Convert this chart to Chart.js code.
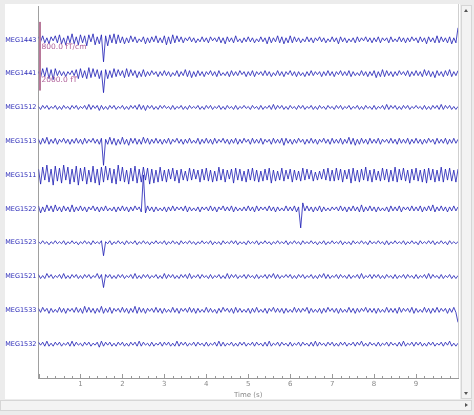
<!DOCTYPE html>
<html>
<head>
<meta charset="UTF-8">
<title>MEG raw traces</title>
<script src="https://cdn.jsdelivr.net/npm/chart.js"></script>
<style>
  body { margin: 0; background: #ececec; width: 474px; height: 415px; overflow: hidden; position: relative; }
  #wrap { position: absolute; left: 5px; top: 4px; width: 455px; height: 395px; background: #fff; }
  .vbar { position: absolute; left: 461px; top: 5px; width: 9px; height: 392px; background: #f3f3f3; border: 1px solid #d6d6d6; }
  .hbar { position: absolute; left: 0; top: 400px; width: 470px; height: 9px; background: #f3f3f3; border: 1px solid #d6d6d6; }
  .up { position: absolute; left: 2px; top: 3px; border-left: 2.5px solid transparent; border-right: 2.5px solid transparent; border-bottom: 3px solid #555; }
  .down { position: absolute; left: 2px; bottom: 3px; border-left: 2.5px solid transparent; border-right: 2.5px solid transparent; border-top: 3px solid #555; }
  .right { position: absolute; right: 3px; top: 2px; border-top: 2.5px solid transparent; border-bottom: 2.5px solid transparent; border-left: 3px solid #555; }
</style>
</head>
<body>
<div id="wrap"><canvas id="raw" width="455" height="395"></canvas></div>
<div class="vbar"><div class="up"></div><div class="down"></div></div>
<div class="hbar"><div class="right"></div></div>
<script>
// channel names, top to bottom
const channels = ['MEG1443', 'MEG1441', 'MEG1512', 'MEG1513', 'MEG1511',
                  'MEG1522', 'MEG1523', 'MEG1521', 'MEG1533', 'MEG1532'];
const tStep = 0.05; // seconds between samples
const xTicks = [1, 2, 3, 4, 5, 6, 7, 8, 9];

// deflections (approx. px, up = positive)
const meg1443 = [
  3,-2,4,-3,2,-4,3,-1,4,-3,5,-4,2,-5,4,-3,6,-4,3,-5,
  5,-3,4,-6,5,-2,6,-5,3,-4,5,-22,4,-6,5,-3,6,-4,5,-3,
  3,-4,2,-3,4,-2,3,-3,1,-2,3,-4,2,-3,3,-2,4,-3,2,-3,
  4,-5,3,-4,5,-3,4,-2,3,-3,2,-1,3,-2,2,-3,1,-2,3,-2,
  2,-3,3,-1,2,-2,3,-3,2,-4,3,-2,2,-3,4,-2,1,-3,2,-2,
  3,-2,2,-3,1,-2,3,-2,2,-4,3,-3,2,-2,4,-3,3,-4,2,-3,
  4,-3,3,-2,2,-3,1,-2,3,-2,2,-3,2,-1,3,-2,2,-3,1,-2,
  3,-2,2,-4,3,-2,2,-3,1,-2,2,-3,3,-2,2,-1,3,-2,2,-3,
  2,-2,3,-3,2,-1,2,-3,3,-2,1,-2,3,-2,2,-3,2,-2,3,-1,
  2,-3,3,-2,2,-4,3,-2,2,-3,4,-3,3,-2,2,-3,3,-4,2,-3,
  12];
const meg1441 = [
  2,-4,5,-3,6,-5,4,-6,5,-2,3,-2,2,-3,2,-1,3,-2,4,-5,
  5,-4,3,-5,6,-4,5,-3,4,-5,3,-19,4,-5,3,-4,5,-3,4,-2,
  3,-4,5,-3,4,-2,3,-4,2,-3,4,-3,2,-2,3,-1,2,-3,2,-2,
  3,-2,2,-3,1,-2,3,-3,2,-2,4,-3,3,-4,2,-3,3,-2,2,-3,
  2,-1,3,-2,2,-3,3,-2,1,-2,2,-3,3,-2,2,-2,3,-1,2,-3,
  2,-2,3,-3,2,-1,2,-2,3,-2,2,-3,1,-2,3,-2,2,-3,2,-1,
  3,-2,2,-3,2,-2,1,-3,2,-2,3,-2,2,-1,2,-3,2,-2,3,-2,
  2,-3,2,-1,3,-2,2,-2,3,-3,2,-2,1,-2,3,-2,2,-3,2,-2,
  3,-4,2,-3,4,-3,3,-2,2,-3,2,-2,3,-1,2,-2,3,-3,2,-2,
  3,-2,2,-3,4,-2,3,-3,2,-4,3,-2,2,-3,3,-2,4,-3,2,-2,
  3];
const meg1512 = [
  1,-2,2,-1,2,-2,1,-1,2,-2,1,-2,2,-1,1,-2,2,-1,2,-2,
  1,-1,2,-2,3,-2,2,-1,2,-3,2,-2,1,-2,2,-1,2,-2,1,-1,
  2,-2,1,-2,2,-1,2,-2,3,-2,2,-3,2,-1,2,-2,1,-2,2,-1,
  2,-1,1,-2,2,-2,1,-1,2,-2,1,-2,2,-1,1,-1,2,-2,1,-2,
  2,-1,2,-2,1,-1,2,-2,1,-2,2,-1,1,-2,2,-2,1,-1,2,-1,
  1,-2,2,-1,1,-2,2,-2,1,-1,2,-2,3,-2,2,-1,2,-2,1,-2,
  2,-1,1,-2,2,-1,2,-2,1,-1,2,-2,1,-2,2,-1,1,-2,2,-1,
  1,-2,2,-1,2,-2,1,-1,2,-2,1,-1,2,-2,1,-2,2,-1,1,-2,
  2,-2,1,-1,2,-2,3,-2,2,-1,2,-2,1,-2,2,-1,2,-2,1,-1,
  2,-1,1,-2,2,-2,1,-2,2,-1,2,-2,3,-2,2,-1,2,-2,1,-2,
  1];
const meg1513 = [
  2,-3,3,-2,4,-3,2,-2,3,-3,2,-1,3,-2,2,-3,2,-2,3,-2,
  2,-3,3,-2,2,-1,3,-2,2,-3,3,-24,2,-3,4,-3,3,-4,2,-3,
  4,-3,2,-4,3,-2,3,-3,2,-3,4,-2,3,-3,2,-2,3,-2,2,-3,
  2,-2,3,-3,2,-1,3,-2,2,-3,2,-2,3,-2,1,-2,3,-3,2,-2,
  3,-2,2,-3,3,-2,2,-1,3,-2,2,-3,2,-2,3,-3,2,-2,3,-1,
  2,-3,3,-2,2,-2,3,-3,2,-1,2,-3,3,-2,2,-2,3,-4,3,-2,
  2,-3,2,-2,3,-1,2,-3,2,-2,3,-2,2,-3,2,-1,3,-2,2,-3,
  3,-2,2,-2,3,-3,2,-2,4,-3,3,-4,2,-3,3,-2,2,-3,3,-2,
  2,-2,3,-3,2,-1,2,-2,3,-2,2,-3,3,-2,2,-2,3,-3,2,-2,
  3,-2,2,-3,2,-2,3,-1,2,-3,3,-2,2,-2,3,-3,2,-2,3,-2,
  2];
const meg1511 = [
  6,-9,8,-5,10,-7,6,-10,9,-6,7,-8,10,-5,8,-9,6,-7,9,-10,
  7,-6,8,-9,5,-7,9,-8,6,-10,8,-7,9,-5,7,-8,6,-9,10,-6,
  8,-7,5,-9,7,-6,9,-8,6,-7,8,-5,7,-9,6,-8,5,-7,8,-6,
  5,-7,6,-4,7,-6,5,-8,6,-5,4,-6,7,-5,6,-4,5,-7,6,-5,
  7,-6,5,-7,4,-6,8,-5,6,-7,5,-4,6,-8,7,-5,6,-6,4,-7,
  6,-5,7,-6,5,-7,4,-6,6,-5,7,-8,5,-6,4,-5,7,-6,5,-4,
  6,-7,5,-5,4,-6,7,-5,6,-4,5,-6,3,-5,4,-4,6,-5,7,-6,
  5,-6,7,-5,6,-7,5,-4,6,-8,7,-6,5,-7,6,-5,8,-6,5,-7,
  6,-5,4,-6,7,-5,6,-7,5,-6,8,-7,6,-5,7,-6,5,-8,6,-5,
  7,-6,5,-7,6,-8,7,-5,6,-7,5,-6,8,-7,6,-5,7,-6,5,-7,
  6];
const meg1522 = [
  3,-4,2,-3,4,-2,3,-3,4,-2,2,-3,3,-2,2,-3,4,-3,2,-2,
  3,-2,2,-3,2,-1,3,-2,2,-3,2,-2,3,-2,1,-2,2,-3,2,-2,
  3,-2,2,-3,2,-2,3,-1,2,-3,34,-4,3,-2,2,-3,2,-2,1,-2,
  2,-3,2,-2,3,-2,2,-1,2,-2,3,-3,2,-2,1,-2,2,-3,2,-1,
  2,-2,3,-2,2,-3,2,-1,3,-2,2,-2,3,-3,2,-2,1,-2,2,-2,
  3,-2,2,-3,3,-2,2,-1,2,-2,3,-2,2,-3,2,-2,1,-2,3,-2,
  2,-2,3,-3,2,-19,6,-2,3,-2,2,-3,2,-2,3,-3,2,-2,1,-2,
  2,-1,2,-2,3,-2,2,-3,2,-2,3,-2,2,-3,4,-3,2,-2,3,-2,
  2,-3,2,-2,1,-2,2,-3,3,-2,2,-2,3,-3,2,-1,2,-2,3,-2,
  2,-2,3,-3,2,-2,3,-2,4,-3,2,-2,3,-2,2,-3,2,-2,3,-2,
  2];
const meg1523 = [
  1,-1,2,-1,1,-2,1,-1,2,-1,1,-1,2,-2,1,-1,2,-1,1,-2,
  1,-1,2,-1,1,-2,2,-1,1,-1,2,-13,1,-1,2,-2,1,-1,2,-1,
  1,-2,2,-1,1,-1,2,-2,1,-1,2,-1,1,-2,1,-1,2,-1,1,-1,
  2,-2,1,-1,2,-1,1,-2,2,-1,1,-1,2,-1,1,-2,1,-1,2,-1,
  1,-1,2,-2,1,-1,1,-2,2,-1,1,-1,2,-1,2,-2,1,-1,1,-2,
  2,-1,1,-1,2,-2,1,-1,2,-1,1,-2,1,-1,2,-1,1,-1,2,-2,
  1,-1,2,-1,1,-2,2,-1,1,-1,2,-1,1,-2,1,-1,2,-2,1,-1,
  2,-1,1,-1,2,-2,1,-1,1,-2,2,-1,1,-1,2,-1,1,-2,2,-1,
  1,-1,2,-1,1,-2,2,-2,1,-1,2,-1,1,-1,2,-2,1,-1,2,-1,
  1,-2,2,-1,1,-1,2,-1,2,-2,1,-1,2,-1,1,-2,2,-1,1,-1,
  1];
const meg1521 = [
  2,-2,1,-2,3,-1,2,-2,1,-1,2,-2,3,-2,1,-2,2,-1,2,-2,
  1,-2,2,-1,2,-2,1,-1,3,-2,2,-11,2,-1,2,-2,1,-2,2,-1,
  2,-2,1,-1,2,-2,3,-2,1,-2,2,-1,2,-2,1,-1,2,-2,1,-2,
  3,-2,2,-1,2,-2,1,-2,2,-1,2,-2,3,-2,1,-1,2,-2,2,-1,
  1,-2,2,-2,1,-1,2,-2,1,-2,3,-2,2,-1,2,-2,1,-1,2,-2,
  2,-1,1,-2,2,-2,1,-1,2,-2,2,-1,3,-2,2,-2,1,-1,2,-1,
  2,-2,1,-2,2,-1,2,-2,1,-1,2,-2,1,-2,2,-1,3,-2,2,-2,
  1,-1,2,-2,2,-1,1,-2,2,-2,1,-1,2,-2,3,-2,1,-1,2,-2,
  2,-1,2,-2,1,-2,2,-1,1,-2,2,-2,1,-1,2,-2,2,-1,1,-2,
  2,-2,1,-1,2,-2,3,-2,2,-1,1,-2,2,-2,1,-1,2,-2,1,-2,
  1];
const meg1533 = [
  2,-2,3,-1,2,-3,2,-2,1,-2,3,-2,2,-3,2,-1,2,-2,3,-2,
  2,-3,4,-2,3,-2,2,-3,2,-2,4,-3,2,-2,3,-3,2,-1,2,-2,
  3,-2,2,-3,2,-2,4,-3,3,-2,2,-3,2,-1,2,-2,3,-2,2,-3,
  2,-2,1,-2,3,-2,2,-3,2,-1,2,-2,3,-2,2,-3,2,-2,1,-2,
  3,-2,2,-2,1,-3,2,-2,3,-1,2,-2,2,-3,3,-2,2,-2,1,-2,
  2,-3,2,-2,3,-2,1,-2,2,-3,2,-1,3,-2,2,-2,2,-3,2,-2,
  1,-2,3,-2,2,-2,2,-1,3,-3,2,-2,1,-2,2,-3,2,-2,3,-1,
  2,-2,2,-3,2,-2,1,-2,3,-2,2,-3,2,-2,2,-1,3,-2,2,-2,
  2,-3,2,-2,1,-2,3,-2,2,-2,2,-3,3,-2,2,-1,2,-2,3,-3,
  2,-2,1,-2,3,-2,2,-3,2,-2,3,-2,2,-1,2,-3,2,-2,3,-2,
  -12];
const meg1532 = [
  2,-1,2,-2,3,-2,1,-2,2,-1,2,-2,1,-1,2,-2,3,-2,2,-1,
  1,-2,2,-1,2,-2,1,-1,2,-3,3,-2,2,-1,2,-2,1,-2,2,-1,
  2,-2,1,-2,2,-1,2,-2,3,-2,2,-1,1,-2,2,-2,1,-1,2,-2,
  2,-1,2,-2,1,-2,3,-2,2,-1,2,-2,1,-1,2,-2,2,-1,1,-2,
  2,-2,1,-1,2,-2,3,-2,2,-2,1,-1,2,-2,1,-2,2,-1,2,-2,
  1,-1,2,-2,2,-1,1,-2,2,-2,3,-2,1,-1,2,-2,2,-1,1,-2,
  2,-2,1,-1,2,-2,2,-1,1,-2,2,-2,3,-2,2,-1,1,-2,2,-1,
  2,-2,1,-2,2,-1,2,-2,1,-1,2,-2,2,-1,3,-2,1,-2,2,-1,
  1,-2,2,-2,1,-1,2,-2,2,-1,1,-2,2,-2,3,-2,1,-1,2,-2,
  2,-1,2,-2,1,-2,2,-1,2,-2,1,-1,2,-2,2,-1,3,-2,1,-2,
  1];

const traces = [meg1443, meg1441, meg1512, meg1513, meg1511,
                meg1522, meg1523, meg1521, meg1533, meg1532];
const scaleLabels = ['800.0 fT/cm', '2000.0 fT'];

const spacing = 33.8; // px between channel rows
const datasets = traces.map((vals, ch) => ({
  label: channels[ch],
  data: vals.map((v, i) => ({ x: i * tStep, y: ch - v / spacing })),
  borderColor: '#1a1ab4',
  borderWidth: 0.8,
  pointRadius: 0,
  tension: 0
}));

// scale bars, inward ticks, right edge
const decor = {
  id: 'decor',
  afterDatasetsDraw(chart) {
    const { ctx, chartArea: a, scales: { x, y } } = chart;
    ctx.save();
    ctx.fillStyle = '#b8789a';
    const x0 = x.getPixelForValue(0);
    ctx.fillRect(x0 + 0.5, y.getPixelForValue(-0.53), 2, y.getPixelForValue(1.5) - y.getPixelForValue(-0.53));
    ctx.fillStyle = '#b0609a';
    ctx.font = '7.5px "DejaVu Sans"';
    ctx.textBaseline = 'middle';
    scaleLabels.forEach((s, i) => ctx.fillText(s, x0 + 3, y.getPixelForValue(i + 0.2)));
    ctx.strokeStyle = '#999';
    ctx.lineWidth = 1;
    ctx.beginPath();
    for (let k = 0; k <= 50; k++) {
      const px = Math.round(x.getPixelForValue(k * 0.2)) + 0.5;
      const len = k % 5 === 0 ? 4 : 2;
      ctx.moveTo(px, a.bottom);
      ctx.lineTo(px, a.bottom - len);
    }
    ctx.stroke();
    ctx.strokeStyle = '#cfcfcf';
    ctx.beginPath();
    ctx.moveTo(a.right + 0.5, a.top - 4);
    ctx.lineTo(a.right + 0.5, a.bottom);
    ctx.stroke();
    ctx.restore();
  }
};

new Chart(document.getElementById('raw'), {
  type: 'line',
  data: { datasets },
  plugins: [decor],
  options: {
    responsive: false,
    animation: false,
    layout: { padding: { top: 2, right: 2, left: 0, bottom: 0 } },
    plugins: { legend: { display: false }, tooltip: { enabled: false } },
    scales: {
      x: {
        type: 'linear',
        min: 0,
        max: 10,
        afterBuildTicks: s => { s.ticks = xTicks.map(v => ({ value: v })); },
        afterFit: s => { s.height = 21; s.paddingLeft = 0; s.paddingRight = 0; },
        grid: { display: false, drawTicks: false },
        border: { display: true, color: '#999' },
        ticks: { color: '#888', font: { family: 'DejaVu Sans', size: 7 }, padding: 2, maxRotation: 0 },
        title: { display: true, text: 'Time (s)', color: '#888', font: { family: 'DejaVu Sans', size: 7 }, padding: { top: 2, bottom: 0 } }
      },
      y: {
        type: 'linear',
        reverse: true,
        min: -1,
        max: 10,
        afterBuildTicks: s => { s.ticks = channels.map((c, i) => ({ value: i })); },
        afterFit: s => { s.width = 33.5; s.paddingTop = 0; s.paddingBottom = 0; },
        grid: { display: false, drawTicks: false },
        border: { display: true, color: '#a0a0a0' },
        ticks: {
          color: '#2a2ab8',
          font: { family: 'DejaVu Sans', size: 6.5 },
          padding: 2,
          callback: v => channels[v]
        }
      }
    }
  }
});
</script>
</body>
</html>
